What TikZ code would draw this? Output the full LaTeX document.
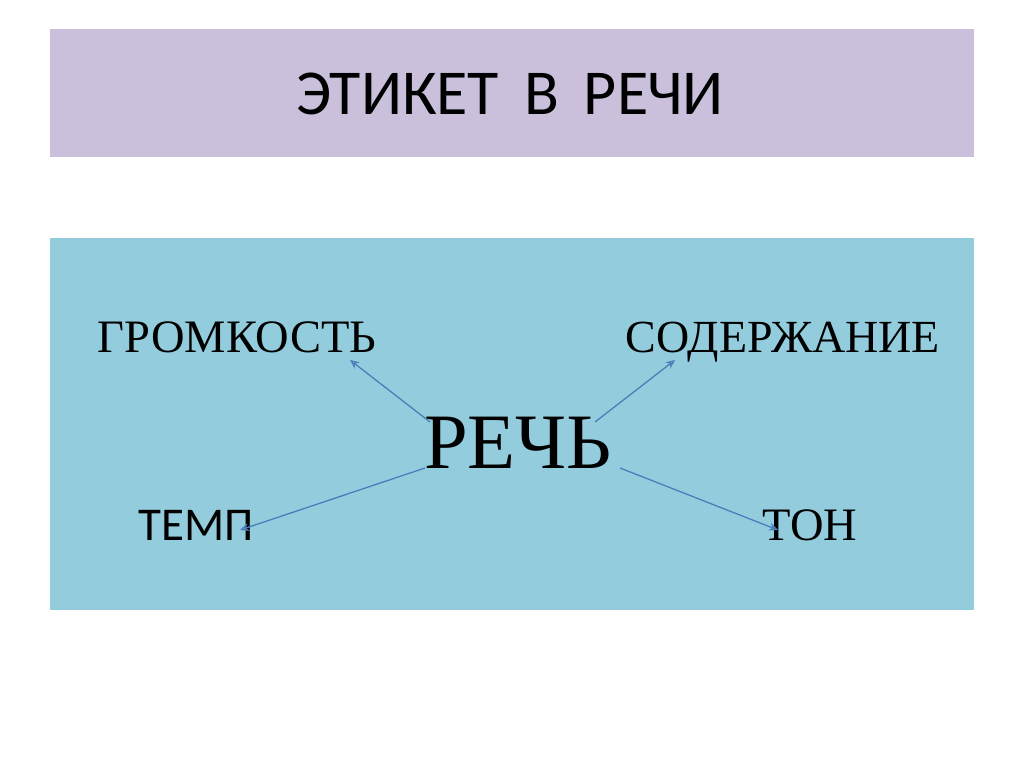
\documentclass[tikz,border=0pt]{standalone}
\usepackage{fontspec}
\setmainfont{Liberation Serif}
\newfontfamily\calib{Carlito}
\definecolor{lil}{HTML}{CBC0DC}
\definecolor{aqua}{HTML}{93CDDD}
\definecolor{arr}{HTML}{4A7EBB}
\usetikzlibrary{arrows.meta}
\tikzset{conn/.style={arr,line width=1.3pt,-{Stealth[length=9pt,width=8pt,open]}},
 lbl/.style={anchor=base,inner sep=0pt}}
\begin{document}
\begin{tikzpicture}[x=1pt,y=-1pt]
\useasboundingbox (0,0) rectangle (1024,767);
\fill[lil] (50,29) rectangle (974,157);
\fill[aqua] (50,238) rectangle (974,610);
\node[lbl,font=\calib\fontsize{64}{66}\selectfont] (t) at (510,115) {ЭТИКЕТ\, В\, РЕЧИ};
\node[lbl,font=\fontsize{46.5}{48}\selectfont] (g) at (237,352) {ГРОМКОСТЬ};
\node[lbl,font=\fontsize{46}{48}\selectfont] (s) at (783,352) {СОДЕРЖАНИЕ};
\node[lbl,font=\fontsize{78.5}{80}\selectfont] (r) at (518,468) {РЕЧЬ};
\node[lbl,font=\calib\fontsize{47}{49}\selectfont] (tm) at (196,540) {ТЕМП};
\node[lbl,font=\fontsize{46.5}{48}\selectfont] (tn) at (810,540) {ТОН};
\coordinate (a1) at (430,422); \coordinate (b1) at (350,360);
\coordinate (a2) at (595,422); \coordinate (b2) at (675,360);
\coordinate (a3) at (425,468); \coordinate (b3) at (240,530);
\coordinate (a4) at (620,468); \coordinate (b4) at (778,530);
\draw[conn] (a1) -- (b1);
\draw[conn] (a2) -- (b2);
\draw[conn] (a3) -- (b3);
\draw[conn] (a4) -- (b4);
\end{tikzpicture}
\end{document}
